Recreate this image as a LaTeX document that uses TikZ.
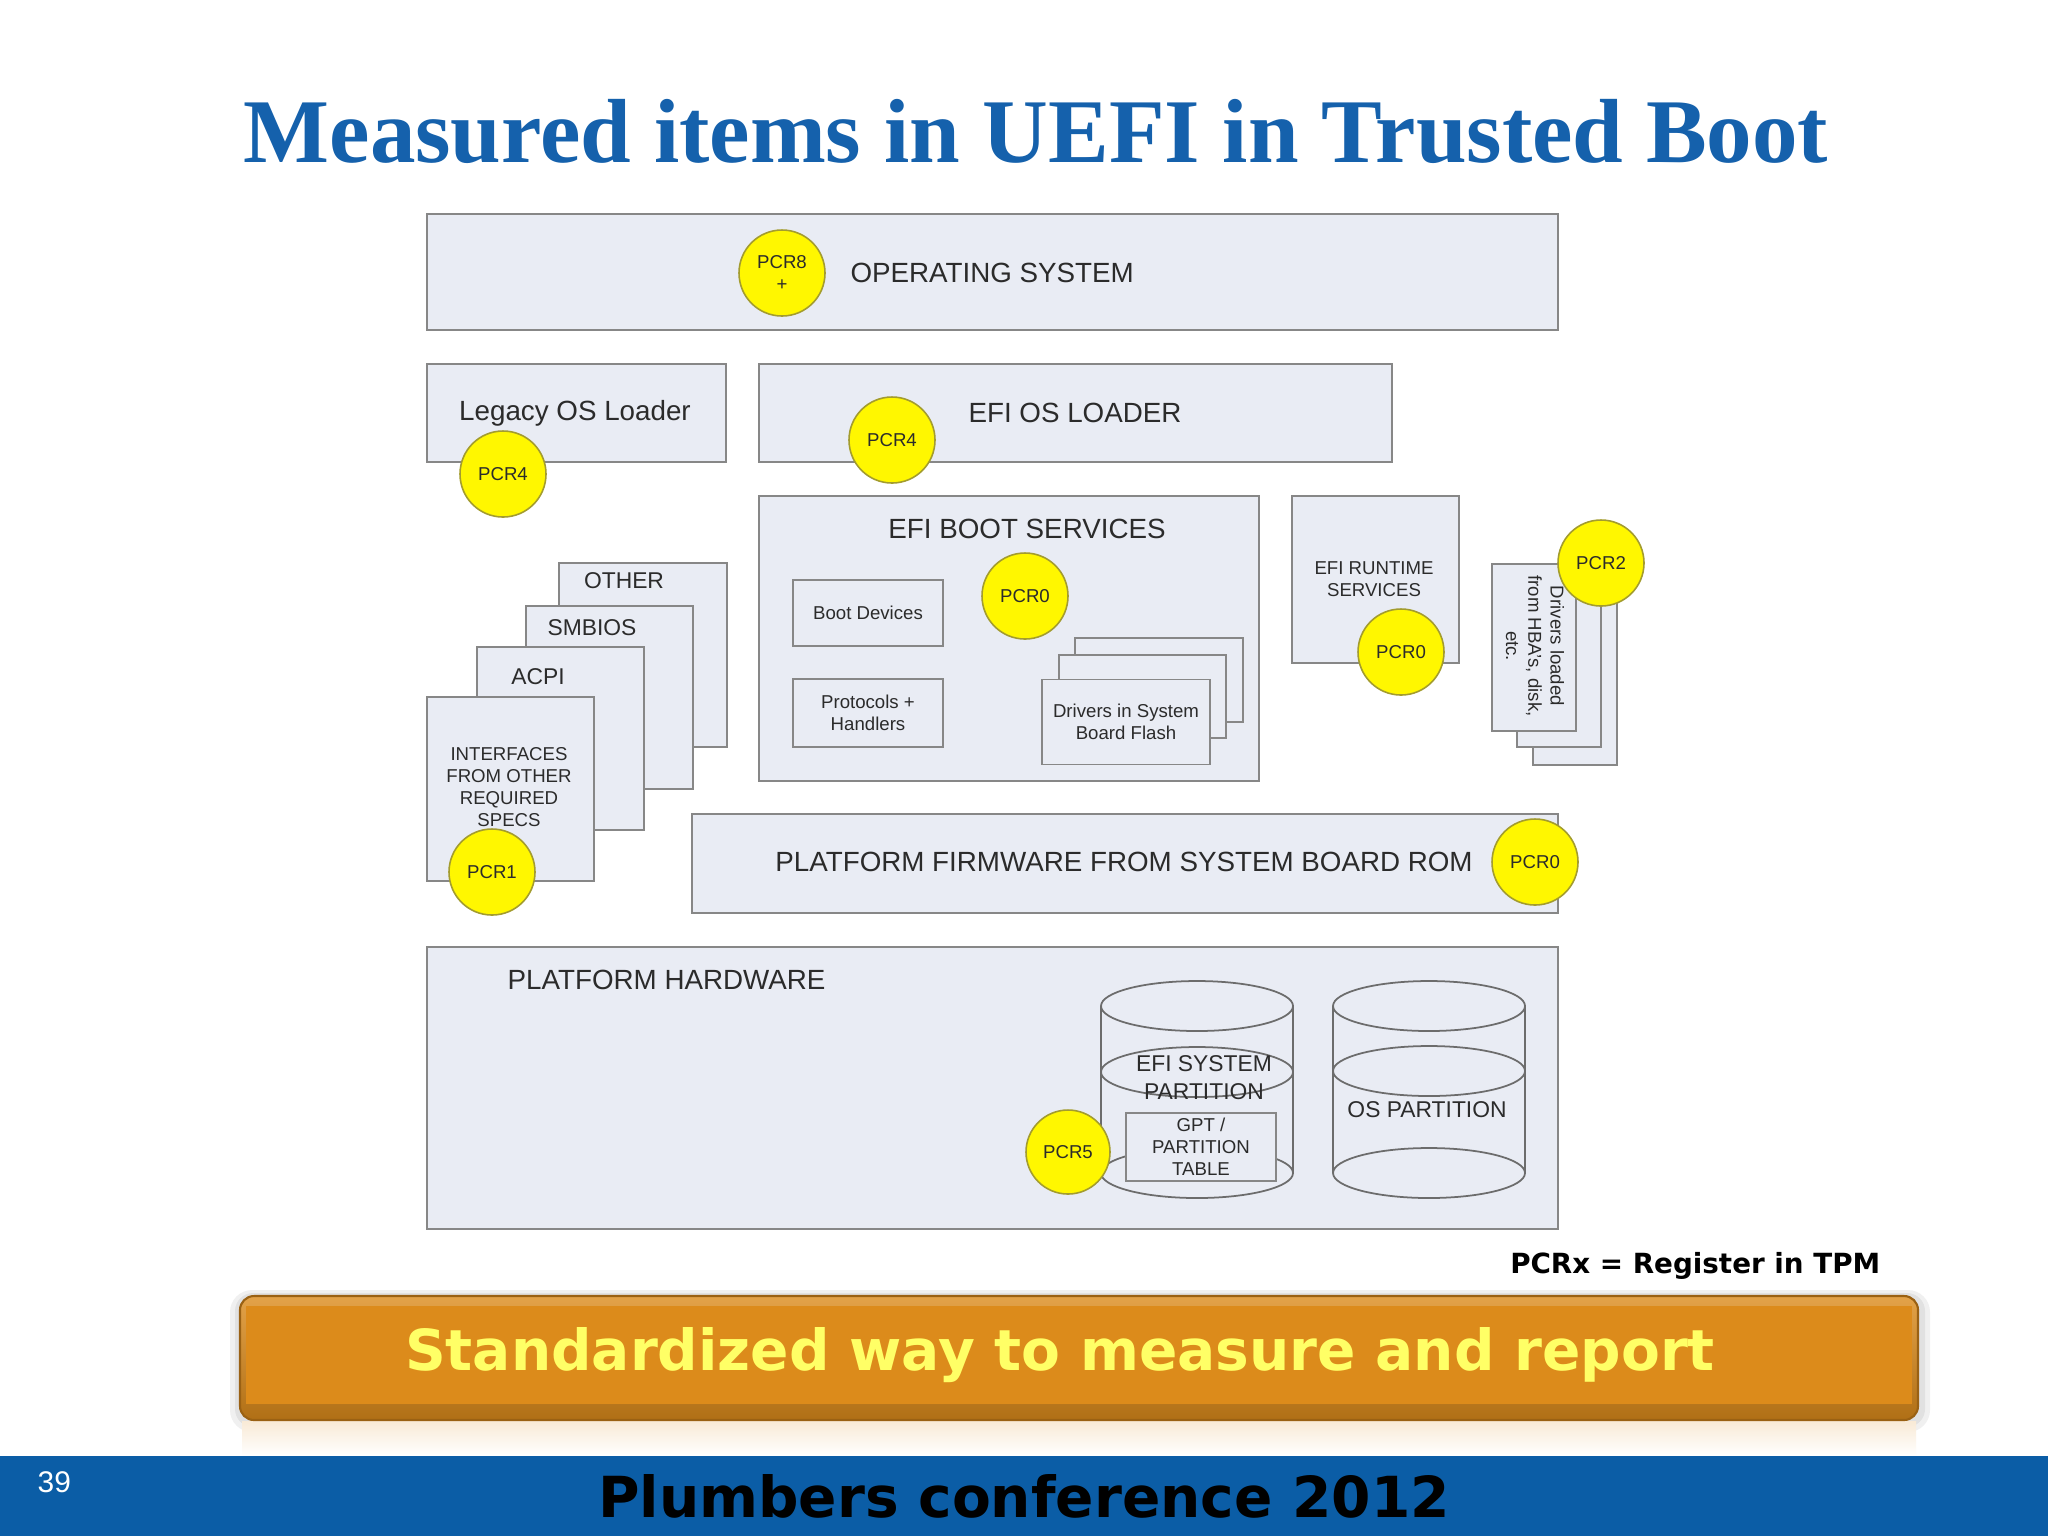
\documentclass[tikz,border=0pt]{standalone}
\usepackage{fontspec}
\setmainfont{Liberation Sans}
\newfontfamily\titlefont{Liberation Serif}
\newfontfamily\slidefont{DejaVu Sans}
\usetikzlibrary{positioning}
\definecolor{titleblue}{HTML}{1561AC}
\definecolor{barblue}{HTML}{0B5DA6}
\definecolor{panelfill}{HTML}{E9ECF4}
\definecolor{panelline}{HTML}{878787}
\definecolor{pcryellow}{HTML}{FFF700}
\definecolor{pcrline}{HTML}{A39C2E}
\definecolor{labelgray}{HTML}{2B2B2B}
\definecolor{bannerorange}{HTML}{DC8B1B}
\definecolor{banneryellow}{HTML}{FFFF66}
\tikzstyle{panel}=[draw=panelline, fill=panelfill, line width=0.55pt]
\tikzstyle{disk}=[draw=panelline!80!black, line width=0.5pt]
\tikzstyle{pcr}=[circle, draw=pcrline, fill=pcryellow, line width=0.45pt, minimum size=8.6mm, inner sep=0pt, text=labelgray, align=center, font=\fontsize{5.3}{6.2}\selectfont]
\tikzstyle{biglabel}=[inner sep=0pt, text=labelgray, font=\fontsize{7.9}{9}\selectfont]
\tikzstyle{midlabel}=[inner sep=0pt, text=labelgray, align=center, font=\fontsize{6.5}{8}\selectfont]
\tikzstyle{smalllabel}=[inner sep=0pt, text=labelgray, align=center, font=\fontsize{5.3}{6.3}\selectfont]

\begin{document}
\begin{tikzpicture}[x=0.1mm, y=-0.1mm]
  \useasboundingbox (0,0) rectangle (2048,1536);
  \fill[white] (0,0) rectangle (2048,1536);
  \node[anchor=base, text=titleblue, font=\titlefont\bfseries\fontsize{25.9}{30}\selectfont] (title) at (1036,162) {Measured items in UEFI in Trusted Boot};

  % operating system and loaders
  \draw[panel] (427,214) rectangle (1558,330);
  \node[pcr] (pcr8) at (782,273) {PCR8\\+};
  \node[biglabel, right=2.4mm of pcr8] (os) {OPERATING SYSTEM};
  \draw[panel] (427,364) rectangle (726,462);
  \node[biglabel] (legacy) at (575,413) {Legacy OS Loader};
  \node[pcr] (pcr4a) at (503,474) {PCR4};
  \draw[panel] (759,364) rectangle (1392,462);
  \node[biglabel] (efiloader) at (1075,413) {EFI OS LOADER};
  \node[pcr] (pcr4b) at (892,440) {PCR4};

  % boot services
  \draw[panel] (759,496) rectangle (1259,781);
  \node[biglabel] (bootsvc) at (1027,529) {EFI BOOT SERVICES};
  \node[panel, smalllabel, minimum width=15mm, minimum height=6.6mm] (bootdev) at (868,613) {Boot Devices};
  \node[panel, smalllabel, minimum width=15mm, minimum height=6.8mm] (protocols) at (868,713) {Protocols +\\Handlers};
  \node[pcr] (pcr0a) at (1025,596) {PCR0};
  \draw[panel] (1075,638) rectangle (1243,722);
  \draw[panel] (1059,655) rectangle (1226,738);
  \node[panel, smalllabel, minimum width=16.8mm, minimum height=8.5mm] (flash) at (1126,722) {Drivers in System\\Board Flash};

  % runtime services and option rom drivers
  \draw[panel] (1292,496) rectangle (1459,663);
  \node[smalllabel] (runtime) at (1374,579) {EFI RUNTIME\\SERVICES};
  \node[pcr] (pcr0b) at (1401,652) {PCR0};
  \draw[panel] (1533,598) rectangle (1617,765);
  \draw[panel] (1517,581) rectangle (1601,747);
  \draw[panel] (1492,564) rectangle (1576,731);
  \node[smalllabel, rotate=-90] (hba) at (1535,646) {Drivers loaded\\from HBA's, disk,\\etc.};
  \node[pcr] (pcr2) at (1601,563) {PCR2};

  % tables from other specs
  \draw[panel] (559,563) rectangle (727,747);
  \node[midlabel] (other) at (624,581) {OTHER};
  \draw[panel] (526,606) rectangle (693,789);
  \node[midlabel] (smbios) at (592,628) {SMBIOS};
  \draw[panel] (477,647) rectangle (644,830);
  \node[midlabel] (acpi) at (538,677) {ACPI};
  \draw[panel] (427,697) rectangle (594,881);
  \node[smalllabel] (interfaces) at (509,787) {INTERFACES\\FROM OTHER\\REQUIRED\\SPECS};
  \node[pcr] (pcr1) at (492,872) {PCR1};

  % firmware
  \draw[panel] (692,814) rectangle (1558,913);
  \node[biglabel] (firmware) at (1124,862) {PLATFORM FIRMWARE FROM SYSTEM BOARD ROM};
  \node[pcr] (pcr0c) at (1535,862) {PCR0};

  % hardware and disks
  \draw[panel] (427,947) rectangle (1558,1229);
  \node[biglabel, anchor=west] (hardware) at (507,980) {PLATFORM HARDWARE};
  \draw[disk] (1101,1006) -- (1101,1173) (1293,1006) -- (1293,1173);
  \draw[disk] (1197,1006) ellipse [x radius=9.6mm, y radius=2.5mm];
  \draw[disk] (1197,1072) ellipse [x radius=9.6mm, y radius=2.5mm];
  \draw[disk] (1197,1173) ellipse [x radius=9.6mm, y radius=2.5mm];
  \node[midlabel, font=\fontsize{6.5}{8}\selectfont] (esp) at (1204,1078) {EFI SYSTEM\\PARTITION};
  \node[panel, smalllabel, minimum width=15mm, minimum height=6.8mm] (gpt) at (1201,1147) {GPT /\\PARTITION\\TABLE};
  \node[pcr, minimum size=8.4mm] (pcr5) at (1068,1152) {PCR5};
  \draw[disk] (1333,1006) -- (1333,1173) (1525,1006) -- (1525,1173);
  \draw[disk] (1429,1006) ellipse [x radius=9.6mm, y radius=2.5mm];
  \draw[disk] (1429,1071) ellipse [x radius=9.6mm, y radius=2.5mm];
  \draw[disk] (1429,1173) ellipse [x radius=9.6mm, y radius=2.5mm];
  \node[midlabel] (ospart) at (1427,1110) {OS PARTITION};

  \node[anchor=base east, inner sep=0pt, font=\slidefont\bfseries\fontsize{7.9}{9}\selectfont] (legend) at (1881,1273) {PCRx = Register in TPM};

  % banner
  \fill[black, opacity=0.06, rounded corners=2.2mm] (230,1290) rectangle (1930,1432);
  \fill[black, opacity=0.06, rounded corners=1.8mm] (235,1293) rectangle (1925,1427);
  \shade[top color=bannerorange!18, bottom color=white] (242,1421) rectangle (1916,1456);
  \shade[draw=bannerorange!70!black, line width=0.6pt, rounded corners=1.4mm, top color=bannerorange!80!white, middle color=bannerorange, bottom color=bannerorange!80!black, shading angle=0] (240,1296) rectangle (1918,1420);
  \fill[bannerorange] (246,1306) rectangle (1912,1404);
  \node[anchor=base, text=banneryellow, font=\slidefont\bfseries\fontsize{16.1}{19}\selectfont] (banner) at (1060,1370) {Standardized way to measure and report};

  % footer
  \fill[barblue] (0,1456) rectangle (2048,1536);
  \node[anchor=base west, inner sep=0pt, text=white, font=\fontsize{8.5}{10}\selectfont] (page) at (37,1492) {39};
  \node[anchor=base, font=\slidefont\bfseries\fontsize{16.1}{19}\selectfont] (footer) at (1024,1517) {Plumbers conference 2012};
\end{tikzpicture}
\end{document}
